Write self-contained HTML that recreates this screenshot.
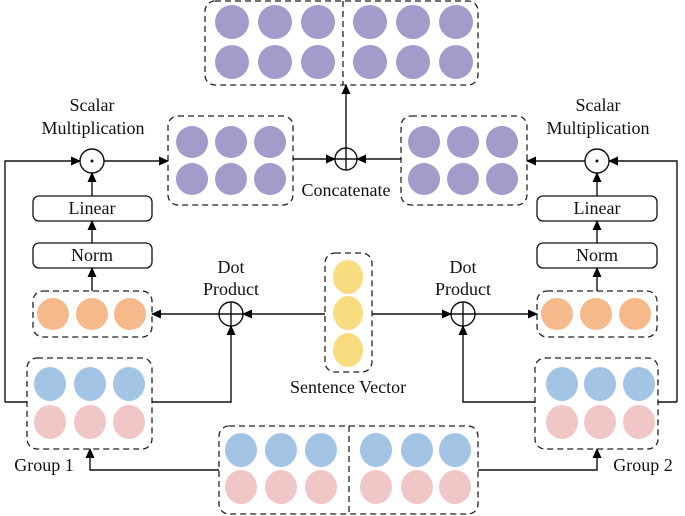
<!DOCTYPE html>
<html><head><meta charset="utf-8"><style>body{margin:0;background:#fff}svg{display:block}text{font-family:"Liberation Serif","DejaVu Serif",serif;font-size:18px;fill:#111;text-anchor:middle}</style></head><body>
<svg width="685" height="516" viewBox="0 0 685 516" xmlns="http://www.w3.org/2000/svg" font-family="Liberation Serif, serif">
<defs><marker id="a" markerWidth="10" markerHeight="10" refX="9" refY="5" orient="auto" markerUnits="userSpaceOnUse"><path d="M0,0.5 L10,5 L0,9.5 z" fill="#000"/></marker></defs>
<g fill="none" stroke="#222" stroke-width="1.3" stroke-dasharray="6,4">
<rect x="205" y="1" width="273" height="84" rx="10"/><line x1="343" y1="1" x2="343" y2="85"/>
<rect x="168" y="116" width="125" height="89" rx="10"/>
<rect x="401" y="116" width="126" height="89" rx="10"/>
<rect x="33" y="291" width="119" height="46" rx="10"/>
<rect x="537" y="291" width="120" height="46" rx="10"/>
<rect x="325" y="253" width="47" height="119" rx="10"/>
<rect x="27" y="358" width="125" height="91" rx="10"/>
<rect x="535" y="358" width="123" height="91" rx="10"/>
<rect x="219" y="426" width="259" height="88" rx="10"/><line x1="349" y1="426" x2="349" y2="514"/>
</g>
<g fill="#a49bcb">
<circle cx="232" cy="22" r="17"/><circle cx="275" cy="22" r="17"/><circle cx="318" cy="22" r="17"/>
<circle cx="370" cy="22" r="17"/><circle cx="413" cy="22" r="17"/><circle cx="456" cy="22" r="17"/>
<circle cx="232" cy="62" r="17"/><circle cx="275" cy="62" r="17"/><circle cx="318" cy="62" r="17"/>
<circle cx="370" cy="62" r="17"/><circle cx="413" cy="62" r="17"/><circle cx="456" cy="62" r="17"/>
<circle cx="192" cy="142" r="16"/><circle cx="231" cy="142" r="16"/><circle cx="270" cy="142" r="16"/>
<circle cx="192" cy="179" r="16"/><circle cx="231" cy="179" r="16"/><circle cx="270" cy="179" r="16"/>
<circle cx="424" cy="142" r="16"/><circle cx="463" cy="142" r="16"/><circle cx="502" cy="142" r="16"/>
<circle cx="424" cy="179" r="16"/><circle cx="463" cy="179" r="16"/><circle cx="502" cy="179" r="16"/>
</g>
<g fill="#f5b98b">
<circle cx="53" cy="314" r="16"/><circle cx="92" cy="314" r="16"/><circle cx="130" cy="314" r="16"/>
<circle cx="557" cy="314" r="16"/><circle cx="596" cy="314" r="16"/><circle cx="635" cy="314" r="16"/>
</g>
<g fill="#f9dc7f"><ellipse cx="348" cy="277" rx="15" ry="17"/><ellipse cx="348" cy="313" rx="15" ry="17"/><ellipse cx="348" cy="350" rx="15" ry="17"/></g>
<g fill="#a4c4e6">
<ellipse cx="50" cy="384" rx="16" ry="17"/><ellipse cx="90" cy="384" rx="16" ry="17"/><ellipse cx="129" cy="384" rx="16" ry="17"/>
<ellipse cx="562" cy="384" rx="16" ry="17"/><ellipse cx="600" cy="384" rx="16" ry="17"/><ellipse cx="639" cy="384" rx="16" ry="17"/>
<ellipse cx="241" cy="450" rx="16" ry="17"/><ellipse cx="281" cy="450" rx="16" ry="17"/><ellipse cx="321" cy="450" rx="16" ry="17"/>
<ellipse cx="376" cy="450" rx="16" ry="17"/><ellipse cx="417" cy="450" rx="16" ry="17"/><ellipse cx="455" cy="450" rx="16" ry="17"/>
</g>
<g fill="#f0c6c7">
<ellipse cx="50" cy="422" rx="16" ry="17"/><ellipse cx="90" cy="422" rx="16" ry="17"/><ellipse cx="129" cy="422" rx="16" ry="17"/>
<ellipse cx="562" cy="422" rx="16" ry="17"/><ellipse cx="600" cy="422" rx="16" ry="17"/><ellipse cx="639" cy="422" rx="16" ry="17"/>
<ellipse cx="241" cy="487" rx="16" ry="17"/><ellipse cx="281" cy="487" rx="16" ry="17"/><ellipse cx="321" cy="487" rx="16" ry="17"/>
<ellipse cx="376" cy="487" rx="16" ry="17"/><ellipse cx="417" cy="487" rx="16" ry="17"/><ellipse cx="455" cy="487" rx="16" ry="17"/>
</g>
<g fill="#fff" stroke="#111" stroke-width="1.3">
<rect x="33" y="196" width="119" height="25" rx="6"/><rect x="33" y="243" width="119" height="25" rx="6"/>
<rect x="537" y="196" width="120" height="25" rx="6"/><rect x="537" y="243" width="120" height="25" rx="6"/>
</g>
<g fill="none" stroke="#111" stroke-width="1.4">
<circle cx="92" cy="161" r="12"/><circle cx="597" cy="161" r="12"/>
<circle cx="346" cy="159" r="11"/><path d="M335,159h22M346,148v22"/>
<circle cx="231" cy="314" r="12"/><path d="M219,314h24M231,302v24"/>
<circle cx="463" cy="314" r="12"/><path d="M451,314h24M463,302v24"/>
</g>
<circle cx="92" cy="161" r="1.5" fill="#111"/><circle cx="597" cy="161" r="1.5" fill="#111"/>
<g fill="none" stroke="#111" stroke-width="1.4" marker-end="url(#a)">
<path d="M104,161H168"/><path d="M5,402V161H80"/>
<path d="M92,196V173"/><path d="M92,243V221"/><path d="M92,291V268"/>
<path d="M585,161H527"/><path d="M677,402V161H609"/>
<path d="M597,196V173"/><path d="M597,243V221"/><path d="M597,291V268"/>
<path d="M293,159H335"/><path d="M401,159H357"/><path d="M346,148V85"/>
<path d="M219,314H152"/><path d="M325,314H243"/><path d="M152,402H231V326"/>
<path d="M475,314H537"/><path d="M372,314H451"/><path d="M535,402H463V326"/>
<path d="M219,470H90V449"/><path d="M478,470H597V449"/>
</g>
<line x1="5" y1="402" x2="27" y2="402" stroke="#111" stroke-width="1.4"/>
<line x1="658" y1="402" x2="677" y2="402" stroke="#111" stroke-width="1.4"/>
<text x="92" y="111">Scalar</text><text x="93" y="134">Multiplication</text>
<text x="598" y="111">Scalar</text><text x="598" y="134">Multiplication</text>
<text x="92" y="214" font-size="16">Linear</text><text x="92" y="261" font-size="16">Norm</text>
<text x="597" y="214" font-size="16">Linear</text><text x="597" y="261" font-size="16">Norm</text>
<text x="346" y="196">Concatenate</text>
<text x="231" y="273">Dot</text><text x="231" y="295">Product</text>
<text x="463" y="273">Dot</text><text x="463" y="295">Product</text>
<text x="348" y="393">Sentence Vector</text>
<text x="44" y="471">Group 1</text><text x="643" y="471">Group 2</text>
</svg>
</body></html>
